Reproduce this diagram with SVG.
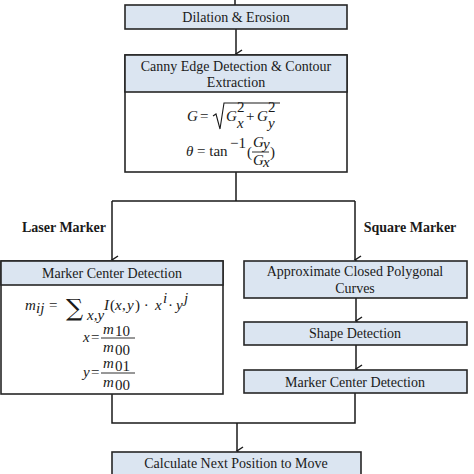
<svg xmlns="http://www.w3.org/2000/svg" width="474" height="474" viewBox="0 0 474 474" font-family="Liberation Serif, Times New Roman, Tinos, Noto Serif, DejaVu Serif, FreeSerif, serif">
<defs>
<marker id="arr" markerWidth="10" markerHeight="10" refX="5" refY="8" orient="auto-start-reverse" markerUnits="userSpaceOnUse" viewBox="0 0 10 10">
<path d="M1,2 L5,8 L9,2" fill="none" stroke="#1a1a1a" stroke-width="1.5"/>
</marker>
<style>
.box{fill:#dbe5f1;stroke:#262626;stroke-width:1.6}
.wbox{fill:#ffffff;stroke:#262626;stroke-width:1.6}
text{fill:#1a1a1a}
.t{font-size:14px;text-anchor:middle}
.lb{font-size:14px;font-weight:bold;text-anchor:middle}
.m{font-size:15px;font-style:italic}
.mn{font-size:15px}
.c{fill:none;stroke:#1a1a1a;stroke-width:1.5}
</style>
</defs>
<g id="connectors">
<path class="c" d="M235,0 L235,5"/>
<path class="c" d="M236,29 L236,54" marker-end="url(#arr)"/>
<path class="c" d="M236,172 L236,201 M112,201 L355,201"/>
<path class="c" d="M112,201 L112,260" marker-end="url(#arr)"/>
<path class="c" d="M355,201 L355,260" marker-end="url(#arr)"/>
<path class="c" d="M356,298 L356,321" marker-end="url(#arr)"/>
<path class="c" d="M356,345 L356,369" marker-end="url(#arr)"/>
<path class="c" d="M112,394 L112,423 L355,423 L355,393"/>
<path class="c" d="M237,423 L237,451" marker-end="url(#arr)"/>
</g>
<g id="dilation">
<rect class="box" x="125" y="5" width="222" height="24"/>
<text class="t" x="236" y="22">Dilation &amp; Erosion</text>
</g>
<g id="canny">
<rect class="wbox" x="125" y="55" width="222" height="117"/>
<rect class="box" x="125" y="55" width="222" height="37"/>
<text class="t" x="236" y="71">Canny Edge Detection &amp; Contour</text>
<text class="t" x="236" y="87">Extraction</text>
<text class="m" x="187" y="121">G</text>
<text class="mn" x="200" y="121">=</text>
<path d="M213,116 L216,114 L220,129 L224,103 L280,103" fill="none" stroke="#1a1a1a" stroke-width="1.1"/>
<text class="m" x="226" y="121">G</text>
<text class="m" x="237" y="128" font-size="8">x</text>
<text class="mn" x="237" y="112" font-size="8">2</text>
<text class="mn" x="246" y="121">+</text>
<text class="m" x="257" y="121">G</text>
<text class="m" x="268" y="128" font-size="8">y</text>
<text class="mn" x="268" y="112" font-size="8">2</text>
<text class="m" x="186" y="156">θ</text>
<text class="mn" x="197" y="156">= tan</text>
<text class="mn" x="230" y="148" font-size="9">−1</text>
<text class="mn" x="247" y="157">(</text>
<text class="m" x="253" y="147" font-size="13">G</text>
<text class="m" x="263" y="149" font-size="8">y</text>
<line x1="252" y1="152" x2="269" y2="152" stroke="#1a1a1a" stroke-width="0.9"/>
<text class="m" x="253" y="165" font-size="13">G</text>
<text class="m" x="263" y="167" font-size="8">x</text>
<text class="mn" x="270" y="157">)</text>
</g>
<g id="labels">
<text class="lb" x="64" y="232">Laser Marker</text>
<text class="lb" x="410" y="232">Square Marker</text>
</g>
<g id="laser-center">
<rect class="wbox" x="1" y="261" width="222" height="133"/>
<rect class="box" x="1" y="261" width="222" height="24"/>
<text class="t" x="112" y="278">Marker Center Detection</text>
<text class="m" x="25" y="310">m</text>
<text class="m" x="36" y="313" font-size="10">ij</text>
<text class="mn" x="49" y="310">=</text>
<text x="66" y="316" font-size="24" font-family="DejaVu Serif, serif">∑</text>
<text class="m" x="87" y="320" font-size="10">x,y</text>
<text class="m" x="104" y="310">I</text>
<text class="mn" x="110" y="310">(</text>
<text class="m" x="115" y="310">x</text>
<text class="mn" x="122" y="310">,</text>
<text class="m" x="127" y="310">y</text>
<text class="mn" x="135" y="310">) · </text>
<text class="m" x="155" y="310">x</text>
<text class="m" x="163" y="303" font-size="10">i</text>
<text class="mn" x="168" y="310">·</text>
<text class="m" x="176" y="310">y</text>
<text class="m" x="184" y="303" font-size="10">j</text>
<text class="m" x="83" y="342">x</text>
<text class="mn" x="91" y="342">=</text>
<text class="m" x="103" y="334">m</text>
<text class="mn" x="115" y="336" font-size="10">10</text>
<line x1="101" y1="338" x2="135" y2="338" stroke="#1a1a1a" stroke-width="0.9"/>
<text class="m" x="103" y="352">m</text>
<text class="mn" x="115" y="355" font-size="10">00</text>
<text class="m" x="83" y="377">y</text>
<text class="mn" x="91" y="377">=</text>
<text class="m" x="103" y="368">m</text>
<text class="mn" x="115" y="371" font-size="10">01</text>
<line x1="101" y1="373" x2="135" y2="373" stroke="#1a1a1a" stroke-width="0.9"/>
<text class="m" x="103" y="387">m</text>
<text class="mn" x="115" y="390" font-size="10">00</text>
</g>
<g id="approx">
<rect class="box" x="244" y="261" width="223" height="37"/>
<text class="t" x="355" y="276">Approximate Closed Polygonal</text>
<text class="t" x="355" y="293">Curves</text>
</g>
<g id="shape">
<rect class="box" x="244" y="322" width="223" height="23"/>
<text class="t" x="355" y="338">Shape Detection</text>
</g>
<g id="square-center">
<rect class="box" x="244" y="370" width="223" height="23"/>
<text class="t" x="355" y="387">Marker Center Detection</text>
</g>
<g id="calculate">
<rect class="box" x="112" y="452" width="249" height="30"/>
<text class="t" x="236" y="468">Calculate Next Position to Move</text>
</g>
</svg>
